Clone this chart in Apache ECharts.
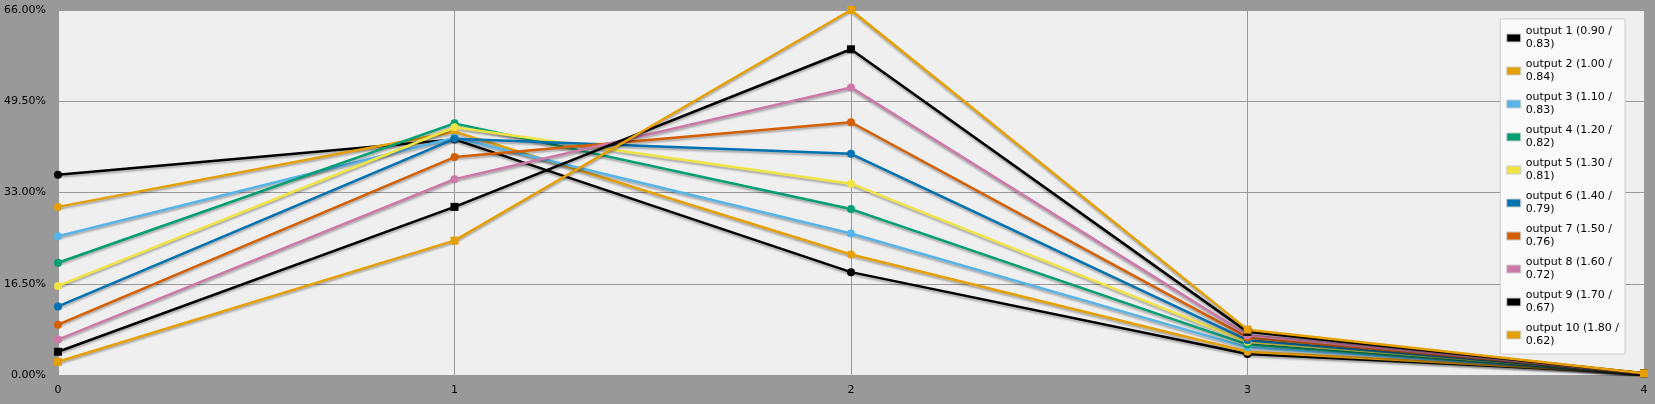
<!DOCTYPE html>
<html><head><meta charset="utf-8">
<script src="https://cdn.jsdelivr.net/npm/echarts@6/dist/echarts.min.js"></script>
<style>html,body{margin:0;padding:0;background:#999999;}#c{width:1655px;height:404px;}</style>
</head><body><div id="c"></div>
<script>
const categories = ['0','1','2','3','4'];
const names = ['output 1 (0.90 /\n0.83)','output 2 (1.00 /\n0.84)','output 3 (1.10 /\n0.83)','output 4 (1.20 /\n0.82)','output 5 (1.30 /\n0.81)','output 6 (1.40 /\n0.79)','output 7 (1.50 /\n0.76)','output 8 (1.60 /\n0.72)','output 9 (1.70 /\n0.67)','output 10 (1.80 /\n0.62)'];
const colors = ['#000000','#e69f00','#56b4e9','#009e73','#f0e442','#0072b2','#d55e00','#cc79a7','#000000','#e69f00'];
const symbols = ['circle','circle','circle','circle','circle','circle','circle','circle','rect','rect'];
const s1 = [36.2, 42.6, 18.6, 3.8, 0.3];
const s2 = [30.4, 44.0, 21.8, 4.2, 0.3];
const s3 = [25.1, 42.9, 25.6, 5.0, 0.3];
const s4 = [20.3, 45.5, 30.0, 5.5, 0.3];
const s5 = [16.1, 44.8, 34.6, 6.0, 0.3];
const s6 = [12.4, 42.7, 40.0, 6.3, 0.3];
const s7 = [9.1, 39.4, 45.7, 6.8, 0.3];
const s8 = [6.4, 35.4, 52.0, 7.2, 0.3];
const s9 = [4.2, 30.4, 58.9, 7.8, 0.3];
const s10 = [2.4, 24.3, 66.0, 8.2, 0.3];
const yTicks = [0, 16.5, 33, 49.5, 66];
const allSeries = [s1,s2,s3,s4,s5,s6,s7,s8,s9,s10];

const chart = echarts.init(document.getElementById('c'));
chart.setOption({
  backgroundColor:'#999999',
  animation:false,
  textStyle:{fontFamily:'DejaVu Sans'},
  grid:{left:58,right:11,top:10,bottom:29,backgroundColor:'#efefef',show:true,borderWidth:0},
  xAxis:{type:'category',data:categories,boundaryGap:false,
    axisLine:{show:false},axisTick:{show:false},
    axisLabel:{color:'#000',fontSize:11,margin:10},
    splitLine:{show:true,lineStyle:{color:'#999',width:1}}},
  yAxis:{type:'value',min:0,max:66,interval:16.5,
    axisLine:{show:false},axisTick:{show:false},
    axisLabel:{color:'#000',fontSize:11,margin:12,formatter:v=>v.toFixed(2)+'%'},
    splitLine:{lineStyle:{color:'#999',width:1}}},
  legend:{orient:'vertical',right:30,top:19,width:140,padding:[6,6,6,6],
    backgroundColor:'#fafafa',borderColor:'#cccccc',borderWidth:1,
    icon:'rect',itemWidth:14,itemHeight:8,itemGap:7,
    textStyle:{fontSize:11,color:'#000',lineHeight:13},
    data:names.map((n,i)=>({name:n,itemStyle:{color:colors[i],borderColor:'#ccc',borderWidth:1}}))},
  series: allSeries.map((d,i)=>({
    name:names[i],type:'line',data:d,
    symbol:symbols[i],symbolSize:8,showSymbol:true,
    itemStyle:{color:colors[i]},
    lineStyle:{color:colors[i],width:2.5,shadowColor:'rgba(0,0,0,0.3)',shadowBlur:2,shadowOffsetY:2}
  }))
});
</script></body></html>
